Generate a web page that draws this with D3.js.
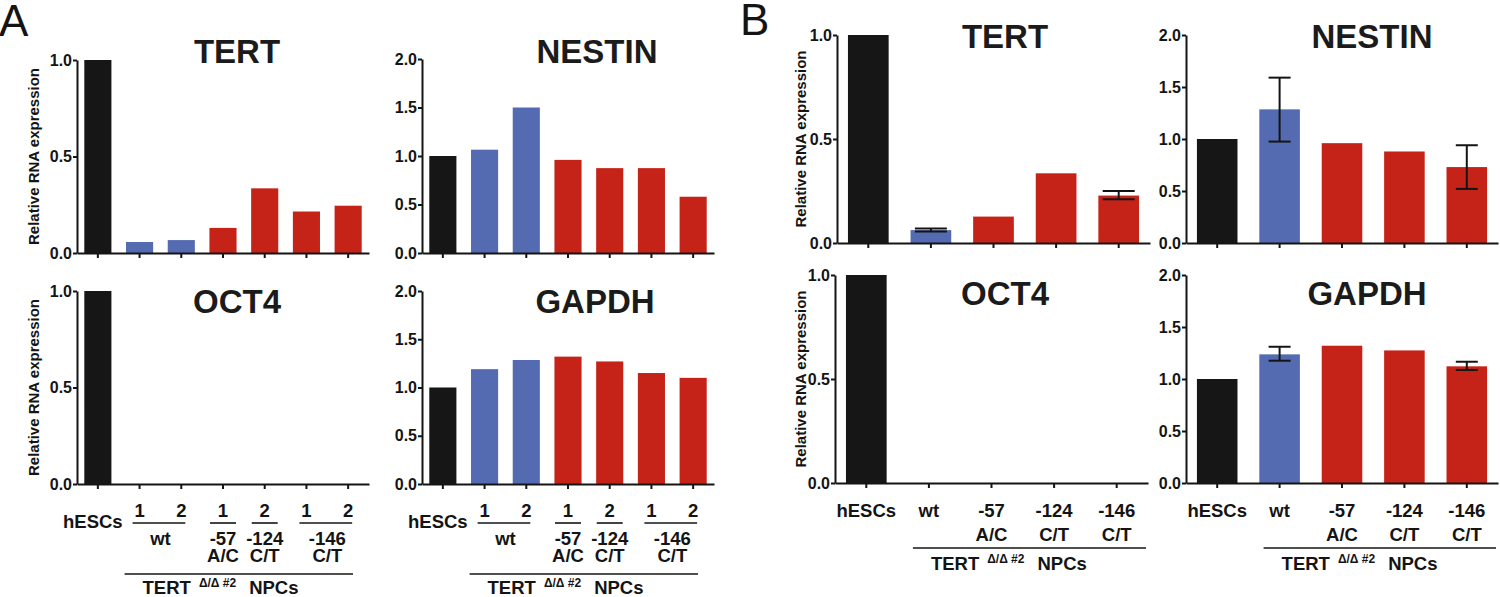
<!DOCTYPE html>
<html>
<head>
<meta charset="utf-8">
<script src="https://cdn.jsdelivr.net/npm/d3@7"></script>
<style>
  html, body { margin: 0; padding: 0; background: #fff; }
  svg { display: block; font-family: "Liberation Sans", Arial, Helvetica, sans-serif; }
</style>
</head>
<body>
<svg id="chart" width="1500" height="597"></svg>
<script>
// ---------- DATA ----------
// Panel A: individual clones
const catsA = ["hESCs", "wt 1", "wt 2", "-57 A/C 1", "-124 C/T 2", "-146 C/T 1", "-146 C/T 2"];
const groupA = ["hESC", "wt", "wt", "mut", "mut", "mut", "mut"];
const cloneLabelsA = ["", "1", "2", "1", "2", "1", "2"];
const mutationNamesA = ["wt", "-57", "-124", "-146"];
const mutationSubA = ["", "A/C", "C/T", "C/T"];
const mutationMembersA = [[1, 2], [3], [4], [5, 6]];

const tertA   = [1.0, 0.057, 0.067, 0.13, 0.335, 0.215, 0.245];
const nestinA = [1.0, 1.065, 1.50, 0.96, 0.875, 0.875, 0.58];
const oct4A   = [1.0, 0, 0, 0, 0, 0, 0];
const gapdhA  = [1.0, 1.19, 1.285, 1.32, 1.27, 1.15, 1.10];

// Panel B: pooled
const catsB = ["hESCs", "wt", "-57 A/C", "-124 C/T", "-146 C/T"];
const groupB = ["hESC", "wt", "mut", "mut", "mut"];
const labelTopB = ["hESCs", "wt", "-57", "-124", "-146"];
const labelBotB = ["", "", "A/C", "C/T", "C/T"];

const tertB      = [1.0, 0.062, 0.127, 0.335, 0.228];
const tertBLow   = [null, 0.055, null, null, 0.21];
const tertBHigh  = [null, 0.070, null, null, 0.25];
const nestinB     = [1.0, 1.285, 0.96, 0.88, 0.73];
const nestinBLow  = [null, 0.975, null, null, 0.52];
const nestinBHigh = [null, 1.59, null, null, 0.94];
const oct4B      = [1.0, 0, 0, 0, 0];
const gapdhB     = [1.0, 1.237, 1.32, 1.275, 1.122];
const gapdhBLow  = [null, 1.176, null, null, 1.087];
const gapdhBHigh = [null, 1.31, null, null, 1.166];

const yTicks1 = [0, 0.5, 1.0];
const yTicks2 = [0, 0.5, 1.0, 1.5, 2.0];

// ---------- STYLE ----------
const colors = { hESC: "#161616", wt: "#556bb1", mut: "#c52318" };
const ink = "#141414";

// ---------- LAYOUT ----------
const panels = [
  { set: "A", title: "TERT",   cats: catsA, grp: groupA, vals: tertA,   max: 1, ticks: yTicks1, x0: 77,   x1: 369,  yb: 253, yt: 60,  tx: 237,  ty: 63,  ylab: 39,  bottom: false },
  { set: "A", title: "NESTIN", cats: catsA, grp: groupA, vals: nestinA, max: 2, ticks: yTicks2, x0: 422,  x1: 714,  yb: 253, yt: 59,  tx: 597,  ty: 63,  ylab: null, bottom: false },
  { set: "A", title: "OCT4",   cats: catsA, grp: groupA, vals: oct4A,   max: 1, ticks: yTicks1, x0: 77,   x1: 369,  yb: 484, yt: 291, tx: 237,  ty: 313, ylab: 39,  bottom: true },
  { set: "A", title: "GAPDH",  cats: catsA, grp: groupA, vals: gapdhA,  max: 2, ticks: yTicks2, x0: 422,  x1: 714,  yb: 484, yt: 291, tx: 595,  ty: 313, ylab: null, bottom: true },
  { set: "B", title: "TERT",   cats: catsB, grp: groupB, vals: tertB,   lo: tertBLow,   hi: tertBHigh,   cap: 32, max: 1, ticks: yTicks1, x0: 837,  x1: 1150, yb: 243, yt: 35,  tx: 1005, ty: 48,  ylab: 806, bottom: false },
  { set: "B", title: "NESTIN", cats: catsB, grp: groupB, vals: nestinB, lo: nestinBLow, hi: nestinBHigh, cap: 22, max: 2, ticks: yTicks2, x0: 1186, x1: 1498, yb: 243, yt: 35,  tx: 1372, ty: 48,  ylab: null, bottom: false },
  { set: "B", title: "OCT4",   cats: catsB, grp: groupB, vals: oct4B,   max: 1, ticks: yTicks1, x0: 835,  x1: 1148, yb: 483, yt: 275, tx: 1005, ty: 305, ylab: 806, bottom: true },
  { set: "B", title: "GAPDH",  cats: catsB, grp: groupB, vals: gapdhB,  lo: gapdhBLow,  hi: gapdhBHigh,  cap: 22, max: 2, ticks: yTicks2, x0: 1186, x1: 1498, yb: 483, yt: 275, tx: 1367, ty: 305, ylab: null, bottom: true }
];

const svg = d3.select("#chart");

// Panel letters
svg.append("text").attr("x", -1).attr("y", 36).attr("font-size", 44).attr("fill", ink).text("A");
svg.append("text").attr("x", 740).attr("y", 35).attr("font-size", 44).attr("fill", ink).text("B");

panels.forEach(p => {
  const g = svg.append("g");
  const x = d3.scaleBand().domain(p.cats).range([p.x0, p.x1]).paddingInner(0.35).paddingOuter(0.175);
  const y = d3.scaleLinear().domain([0, p.max]).range([p.yb, p.yt]);

  // bars
  g.selectAll("rect.bar").data(p.vals).join("rect")
    .attr("class", "bar")
    .attr("x", (d, i) => x(p.cats[i]))
    .attr("width", x.bandwidth())
    .attr("y", d => y(d))
    .attr("height", d => y(0) - y(d))
    .attr("fill", (d, i) => colors[p.grp[i]]);

  // error bars
  if (p.lo) {
    p.vals.forEach((v, i) => {
      if (p.lo[i] == null) return;
      const cx = x(p.cats[i]) + x.bandwidth() / 2;
      const eg = g.append("g").attr("stroke", ink).attr("stroke-width", 2);
      eg.append("line").attr("x1", cx).attr("x2", cx).attr("y1", y(p.lo[i])).attr("y2", y(p.hi[i]));
      eg.append("line").attr("x1", cx - p.cap / 2).attr("x2", cx + p.cap / 2).attr("y1", y(p.lo[i])).attr("y2", y(p.lo[i]));
      eg.append("line").attr("x1", cx - p.cap / 2).attr("x2", cx + p.cap / 2).attr("y1", y(p.hi[i])).attr("y2", y(p.hi[i]));
    });
  }

  // axes
  const yAxis = g.append("g").attr("transform", `translate(${p.x0},0)`)
    .call(d3.axisLeft(y).tickValues(p.ticks).tickFormat(d3.format(".1f")).tickSize(4).tickPadding(1).tickSizeOuter(0));
  const xAxis = g.append("g").attr("transform", `translate(0,${p.yb})`)
    .call(d3.axisBottom(x).tickSize(5).tickSizeOuter(0).tickFormat(""));
  [yAxis, xAxis].forEach(a => {
    a.attr("font-size", 16).attr("font-family", null);
    a.select(".domain").attr("stroke", ink).attr("stroke-width", 2);
    a.selectAll(".tick line").attr("stroke", ink).attr("stroke-width", 2);
    a.selectAll(".tick text").attr("fill", ink).attr("font-size", 16).attr("font-weight", "bold");
  });

  // title
  g.append("text").attr("x", p.tx).attr("y", p.ty).attr("text-anchor", "middle")
    .attr("font-size", 33).attr("font-weight", "bold").attr("fill", "#1b1b1b").text(p.title);

  // y label
  if (p.ylab != null) {
    g.append("text")
      .attr("transform", `translate(${p.ylab},${(p.yb + p.yt) / 2}) rotate(-90)`)
      .attr("text-anchor", "middle").attr("font-size", 15).attr("font-weight", "bold").attr("fill", ink)
      .text("Relative RNA expression");
  }

  if (!p.bottom) return;
  const cx = i => x(p.cats[i]) + x.bandwidth() / 2;
  const lab = g.append("g").attr("font-size", 18.5).attr("font-weight", "bold").attr("fill", ink).attr("text-anchor", "middle");
  let lineStart, lineEnd, lineY, nameY;

  if (p.set === "A") {
    lab.append("text").attr("x", cx(0) - 5).attr("y", 528).text("hESCs");
    cloneLabelsA.forEach((t, i) => { if (t) lab.append("text").attr("x", cx(i)).attr("y", 517).text(t); });
    mutationNamesA.forEach((name, k) => {
      const m = mutationMembersA[k];
      const a = cx(m[0]), b = cx(m[m.length - 1]);
      const ul = m.length > 1 ? [a - 7, b + 4] : [a - 13, a + 13];
      g.append("line").attr("x1", ul[0]).attr("x2", ul[1]).attr("y1", 523).attr("y2", 523).attr("stroke", ink).attr("stroke-width", 1.6);
      lab.append("text").attr("x", (a + b) / 2).attr("y", 545).text(name);
      if (mutationSubA[k]) lab.append("text").attr("x", (a + b) / 2).attr("y", 562).text(mutationSubA[k]);
    });
    lineStart = cx(1) - 15; lineEnd = p.x1 - 16; lineY = 574; nameY = 594;
  } else {
    labelTopB.forEach((t, i) => lab.append("text").attr("x", cx(i)).attr("y", 517).text(t));
    labelBotB.forEach((t, i) => { if (t) lab.append("text").attr("x", cx(i)).attr("y", 541).text(t); });
    lineStart = cx(1) - 16; lineEnd = p.x1 - 2; lineY = 548; nameY = 570;
  }
  g.append("line").attr("x1", lineStart).attr("x2", lineEnd).attr("y1", lineY).attr("y2", lineY)
    .attr("stroke", ink).attr("stroke-width", 1.6);
  const nt = g.append("text").attr("x", lineStart + 18).attr("y", nameY)
    .attr("font-size", 18.5).attr("font-weight", "bold").attr("fill", ink);
  nt.append("tspan").text("TERT");
  nt.append("tspan").attr("dx", 8).attr("dy", -7).attr("font-size", 12).text("Δ/Δ #2");
  nt.append("tspan").attr("dx", 13).attr("dy", 7).text("NPCs");
});
</script>
</body>
</html>
